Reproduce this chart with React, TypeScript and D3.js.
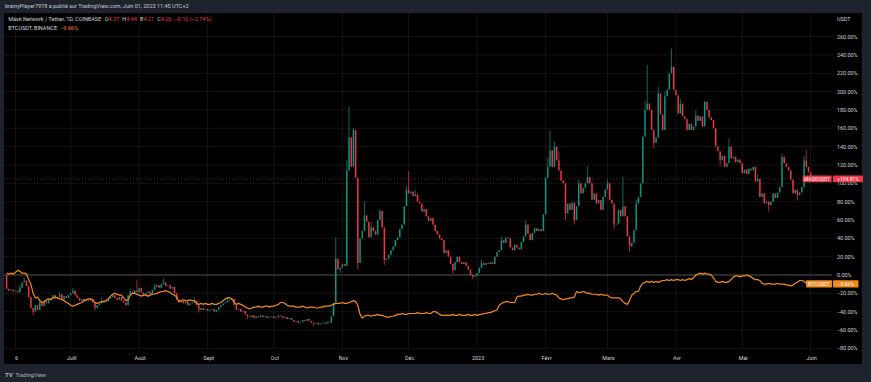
import React from "react";
import * as d3 from "d3";

const W = 871;
const H = 382;

const tickDates = ["2022-06-06", "2022-07-01", "2022-08-01", "2022-09-01", "2022-10-01", "2022-11-01", "2022-12-01", "2023-01-01", "2023-02-01", "2023-03-01", "2023-04-01", "2023-05-01", "2023-06-01"];
const tickLabels = ["6", "Juill", "Août", "Sept", "Oct", "Nov", "Déc", "2023", "Févr", "Mars", "Avr", "Mai", "Juin"];
const priceTicks = [-80, -60, -40, -20, 0, 20, 40, 60, 80, 100, 120, 140, 160, 180, 200, 220, 240, 260];

// MASKUSDT daily closes, % change vs. first bar (2022-06-02 .. 2023-06-01)
const maskClose = [
  -15, -17, -16, -18, -17, -19, -14, -8, -6, -12,
  -24, -36, -40, -33, -38, -30, -34, -28, -31, -27,
  -25, -22, -26, -24, -21, -27, -23, -25, -22, -20,
  -17, -22, -25, -28, -26, -29, -27, -28, -26, -30,
  -36, -33, -31, -28, -30, -29, -26, -24, -22, -25,
  -27, -24, -28, -30, -33, -22, -18, -20, -17, -19,
  -14, -19, -22, -20, -18, -21, -16, -13, -11, -14,
  -10, -8, -12, -11, -15, -13, -20, -27, -30, -28,
  -31, -29, -33, -31, -30, -28, -33, -38, -36, -38,
  -37, -39, -38, -37, -40, -38, -35, -33, -31, -30,
  -28, -27, -26, -33, -38, -37, -40, -39, -43, -45,
  -46, -44, -47, -45, -46, -44, -46, -45, -47, -46,
  -45, -47, -46, -44, -45, -47, -46, -48, -47, -49,
  -51, -50, -52, -51, -49, -50, -48, -50, -52, -53,
  -52, -54, -53, -52, -53, -51, -52, -45, -30, 18,
  6, 8, 12, 10, 114, 150, 118, 158, 106, 13,
  40, 48, 65, 58, 41, 52, 48, 44, 60, 70,
  52, 16, 18, 22, 27, 31, 38, 41, 50, 55,
  75, 93, 89, 91, 86, 88, 80, 78, 69, 72,
  64, 59, 62, 55, 48, 44, 40, 38, 24, 27,
  20, 12, 5, 14, 20, 14, 12, 14, 10, 6,
  0, -2, -1, 2, 8, 13, 11, 13, 12, 14,
  12, 20, 25, 27, 38, 35, 41, 40, 30, 27,
  33, 30, 28, 36, 42, 55, 45, 38, 46, 51,
  48, 50, 48, 66, 106, 118, 136, 118, 140, 125,
  114, 103, 100, 67, 78, 71, 79, 60, 75, 100,
  89, 95, 100, 107, 100, 82, 89, 78, 82, 71,
  85, 93, 100, 82, 78, 55, 56, 71, 64, 75,
  64, 42, 31, 35, 49, 78, 85, 100, 151, 180,
  187, 180, 158, 144, 150, 198, 175, 158, 195, 202,
  220, 227, 202, 196, 176, 187, 173, 170, 158, 165,
  158, 162, 174, 168, 173, 162, 189, 180, 172, 169,
  160, 140, 135, 125, 130, 118, 122, 140, 127, 129,
  123, 126, 122, 111, 115, 110, 116, 114, 118, 102,
  105, 85, 89, 78, 80, 76, 80, 89, 84, 90,
  96, 129, 122, 118, 114, 104, 89, 93, 87, 90,
  96, 125, 118, 112, 104.81,
];

// notable wicks: [day number, value]
const maskHighs: [number, number][] = [
  [7, -11], [9, -3], [16, -26], [25, -18], [31, -14], [44, -25], [57, -15], [60, -5], [68, -10], [72, -4],
  [86, -25], [101, -24], [150, 41], [155, 125], [156, 184], [158, 160], [163, 80], [166, 58], [170, 72],
  [182, 97], [183, 113], [186, 93], [216, 17], [225, 42], [236, 60], [246, 128], [247, 158], [249, 146],
  [251, 134], [260, 104], [264, 118], [273, 104], [280, 107], [286, 82], [290, 190], [291, 229],
  [296, 205], [299, 200], [302, 247], [306, 192], [313, 180], [317, 190], [328, 149], [341, 110],
  [352, 132], [362, 130], [363, 136],
];
const maskLows: [number, number][] = [
  [13, -44], [41, -39], [88, -41], [110, -48], [140, -56], [152, 2], [160, 6], [172, 11], [203, 1],
  [212, -4], [254, 60], [258, 55], [276, 50], [283, 25], [294, 138], [324, 119], [346, 69], [359, 82],
];

// BTCUSDT daily closes, % change vs. first bar
const btcClose = [
  2, 1, 2, 1, 3, 5, 4, 2, 2, 1,
  -5, -10, -20, -25, -24, -28, -30, -29, -27, -26,
  -27, -25, -24, -25, -26, -27, -28, -30, -31, -33,
  -34, -33, -32, -31, -30, -28, -27, -26, -26, -27,
  -30, -31, -30, -29, -29, -28, -26, -23, -21, -20,
  -21, -22, -22, -25, -28, -27, -22, -20, -20, -21,
  -22, -23, -22, -22, -23, -22, -21, -21, -20, -19,
  -18, -18, -17, -18, -19, -21, -22, -24, -29, -28,
  -27, -28, -28, -27, -28, -28, -31, -32, -31, -32,
  -31, -32, -32, -31, -32, -32, -31, -30, -28, -26,
  -25, -25, -26, -30, -32, -31, -32, -33, -35, -36,
  -37, -36, -35, -35, -34, -35, -35, -34, -34, -35,
  -34, -34, -33, -32, -30, -30, -31, -33, -34, -34,
  -34, -35, -35, -35, -34, -35, -36, -35, -35, -35,
  -36, -36, -35, -35, -34, -34, -34, -33, -32, -31,
  -31, -31, -30, -31, -31, -30, -29, -28, -29, -33,
  -43, -47, -45, -44, -44, -45, -44, -44, -43, -44,
  -44, -45, -46, -46, -45, -45, -44, -43, -43, -42,
  -43, -43, -42, -42, -42, -42, -41, -42, -42, -42,
  -41, -42, -42, -40, -40, -41, -43, -44, -44, -44,
  -44, -44, -43, -44, -44, -43, -44, -44, -44, -43,
  -44, -44, -43, -44, -43, -43, -42, -42, -41, -41,
  -40, -39, -38, -33, -31, -30, -29, -29, -30, -30,
  -30, -24, -23, -23, -22, -22, -21, -22, -22, -21,
  -21, -20, -21, -21, -20, -21, -21, -20, -21, -22,
  -25, -26, -27, -26, -26, -25, -25, -24, -18, -19,
  -19, -18, -19, -20, -20, -21, -21, -21, -22, -21,
  -22, -22, -22, -24, -25, -25, -25, -25, -26, -29,
  -31, -32, -28, -22, -20, -18, -18, -12, -9, -8,
  -7, -8, -7, -8, -7, -8, -7, -6, -6, -5,
  -6, -5, -6, -5, -5, -6, -5, -6, -5, -4,
  -5, -3, 0, 1, 2, 1, 2, 1, 1, 0,
  -3, -7, -8, -8, -7, -8, -8, -7, -5, -2,
  -1, -1, -2, -1, -1, 0, -1, -2, -4, -5,
  -5, -6, -9, -10, -10, -9, -10, -10, -10, -9,
  -10, -10, -10, -11, -11, -12, -11, -9, -8, -6,
  -6, -7, -9, -10, -9.66,
];

const UP = "#089981";
const DOWN = "#f23645";
const ORANGE = "#f0891a";
const FONT = "Roboto, 'Noto Sans', sans-serif";

const DAY = 86400000;
const START = Date.UTC(2022, 5, 1);
const dateOf = (dayNum: number) => new Date(START + dayNum * DAY);

export default function App() {
  const plotL = 4, plotR = 832, plotT = 13, plotB = 350;
  const x = d3.scaleUtc().domain([new Date(Date.UTC(2022, 5, 1)), new Date(Date.UTC(2023, 5, 1))]).range([4.4, 810.7]);
  const y = d3.scaleLinear().domain([0, 260]).range([275, 36.6]);

  const highMap = new Map(maskHighs);
  const lowMap = new Map(maskLows);

  const candles = maskClose.map((c, i) => {
    const day = i + 1;
    const o = i === 0 ? 0 : maskClose[i - 1];
    const hi = highMap.get(day);
    const lo = lowMap.get(day);
    return { day, o, c, hi, lo };
  });

  const btcLine = d3
    .line<number>()
    .x((_, i) => x(dateOf(i + 1)))
    .y((v) => y(v))(btcClose) as string;

  const lastMask = maskClose[maskClose.length - 1];
  const lastBtc = btcClose[btcClose.length - 1];
  const fmt = (v: number) => (v >= 0 ? "+" : "\u2212") + Math.abs(v).toFixed(2) + "%";
  const fmtAxis = (v: number) => (v < 0 ? "\u2212" : "") + Math.abs(v).toFixed(2) + "%";

  const bw = 1.5;

  return (
    <svg width={W} height={H} style={{ position: "absolute", left: 0, top: 0, display: "block" }} fontFamily={FONT}>
      <defs>
        <clipPath id="plotclip">
          <rect x={plotL} y={plotT} width={plotR - plotL} height={plotB - plotT} />
        </clipPath>
      </defs>
      <rect x={0} y={0} width={W} height={H} fill="#1e222d" />
      <rect x={plotL} y={plotT} width={862 - plotL} height={364 - plotT} fill="#000000" />

      {/* header */}
      <text x={5} y={8} fontSize={5.5} fill="#c8cad0">brainyPlayer7978 a publié sur TradingView.com, Juin 01, 2023 11:45 UTC+2</text>

      {/* grid */}
      <g clipPath="url(#plotclip)">
        {priceTicks.map((t) => (
          <line key={"h" + t} x1={plotL} x2={plotR} y1={y(t)} y2={y(t)} stroke="#141414" strokeWidth={1} />
        ))}
        {tickDates.map((d) => {
          const xx = x(new Date(d + "T00:00:00Z"));
          return <line key={"v" + d} x1={xx} x2={xx} y1={plotT} y2={plotB} stroke="#141414" strokeWidth={1} />;
        })}
        <line x1={plotL} x2={plotR} y1={y(0)} y2={y(0)} stroke="#4a4a4a" strokeWidth={1} />
        <line x1={plotL} x2={plotR} y1={y(lastMask)} y2={y(lastMask)} stroke={DOWN} strokeOpacity={0.55} strokeWidth={0.8} strokeDasharray="1 2" />

        {/* candles */}
        {candles.map((k) => {
          const cx = x(dateOf(k.day));
          const up = k.c >= k.o;
          const col = up ? UP : DOWN;
          const top = y(Math.max(k.o, k.c));
          const bot = y(Math.min(k.o, k.c));
          return (
            <g key={k.day}>
              {k.hi !== undefined && <line x1={cx} x2={cx} y1={y(k.hi)} y2={top} stroke={col} strokeWidth={0.7} />}
              {k.lo !== undefined && <line x1={cx} x2={cx} y1={bot} y2={y(k.lo)} stroke={col} strokeWidth={0.7} />}
              <rect x={cx - bw / 2} y={top} width={bw} height={Math.max(0.8, bot - top)} fill={col} />
            </g>
          );
        })}

        <path d={btcLine} fill="none" stroke={ORANGE} strokeWidth={1.2} strokeLinejoin="round" />
      </g>

      {/* legend */}
      <text x={8.3} y={21} fontSize={5.5} fill="#d1d4dc">
        Mask Network / Tether, 1D, COINBASE
        <tspan dx={3.5}>O</tspan><tspan fill={DOWN}>4.37</tspan>
        <tspan dx={3}>H</tspan><tspan fill={DOWN}>4.44</tspan>
        <tspan dx={3}>B</tspan><tspan fill={DOWN}>4.21</tspan>
        <tspan dx={3}>C</tspan><tspan fill={DOWN}>4.26</tspan>
        <tspan dx={3} fill={DOWN}>{"\u22120.12 (\u22122.74%)"}</tspan>
      </text>
      <text x={8.3} y={29.5} fontSize={5.5} fill="#d1d4dc">
        BTCUSDT, BINANCE<tspan dx={3} fill={ORANGE}>{fmtAxis(lastBtc)}</tspan>
      </text>

      {/* price axis */}
      <text x={837} y={21} fontSize={5.4} fill="#d1d4dc">USDT</text>
      {priceTicks.map((t) => (
        <text key={"pt" + t} x={837} y={y(t) + 1.9} fontSize={5.4} fill="#d1d4dc">{fmtAxis(t)}</text>
      ))}

      {/* last value labels */}
      <rect x={802.7} y={y(lastMask) - 3.4} width={29} height={6.8} rx={0.8} fill={DOWN} />
      <text x={817.2} y={y(lastMask) + 1.9} fontSize={5} fill="#ffffff" textAnchor="middle">MASKUSDT</text>
      <rect x={833} y={y(lastMask) - 3.4} width={30} height={6.8} rx={0.8} fill={DOWN} />
      <text x={848} y={y(lastMask) + 1.9} fontSize={5} fill="#ffffff" textAnchor="middle">{fmt(lastMask)}</text>

      <rect x={806} y={y(lastBtc) - 3.6} width={26} height={7.2} rx={0.8} fill={ORANGE} />
      <text x={819} y={y(lastBtc) + 1.9} fontSize={5} fill="#ffffff" textAnchor="middle">BTCUSDT</text>
      <rect x={833} y={y(lastBtc) - 3.6} width={25.5} height={7.2} rx={0.8} fill={ORANGE} />
      <text x={845.7} y={y(lastBtc) + 1.9} fontSize={5} fill="#ffffff" textAnchor="middle">{fmtAxis(lastBtc)}</text>

      {/* time axis */}
      {tickDates.map((d, i) => (
        <text key={"tl" + d} x={x(new Date(d + "T00:00:00Z")) + 1} y={360} fontSize={5.4} fill="#d1d4dc" textAnchor="middle">{tickLabels[i]}</text>
      ))}

      {/* footer */}
      <text x={5} y={376.5} fontSize={6} fontWeight="bold" fill="#b2b5be">TV</text>
      <text x={15.5} y={376.5} fontSize={5.5} fill="#b2b5be">TradingView</text>
    </svg>
  );
}
